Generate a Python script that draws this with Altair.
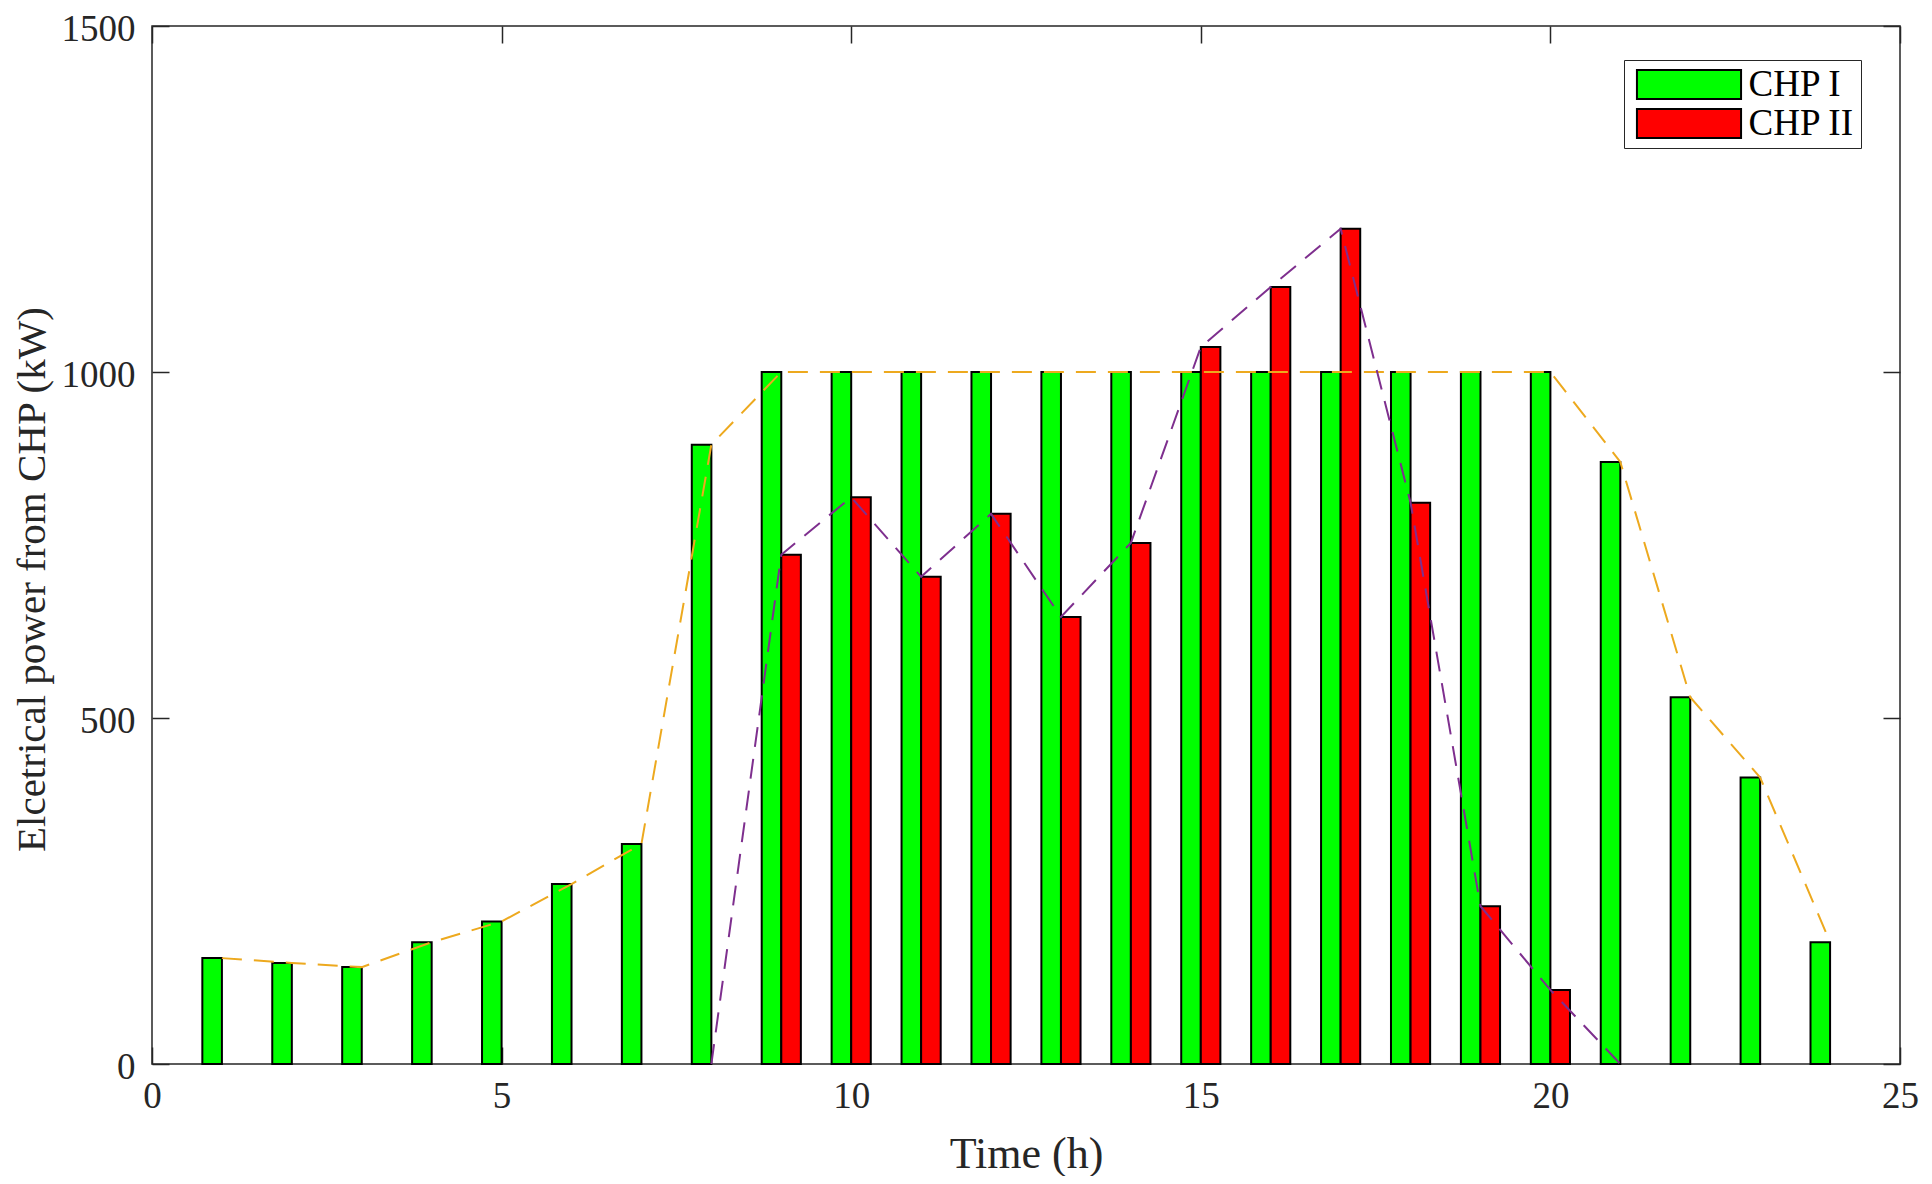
import altair as alt
import pandas as pd

# ---- data ----
hours = list(range(1, 25))
chp1 = [153, 146, 140, 176, 206, 260, 318, 895, 1000, 1000, 1000, 1000,
        1000, 1000, 1000, 1000, 1000, 1000, 1000, 1000, 870, 530, 414, 176]
chp2 = [0, 0, 0, 0, 0, 0, 0, 0, 736, 819, 704, 795,
        646, 753, 1036, 1123, 1207, 811, 228, 107, 0, 0, 0, 0]
series_names = ["CHP I", "CHP II"]
series_colors = ["#00FF00", "#FF0000"]
x_ticks = [0, 5, 10, 15, 20, 25]
y_ticks = [0, 500, 1000, 1500]

BAR_W = 0.28
FONT = "Liberation Serif"
TXT = "#262626"

df = pd.DataFrame({"hour": hours, "chp1": chp1, "chp2": chp2})
bars = pd.concat([
    pd.DataFrame({"series": series_names[0],
                  "x0": [h - BAR_W for h in hours], "x1": hours, "value": chp1}),
    pd.DataFrame({"series": series_names[1],
                  "x0": hours, "x1": [h + BAR_W for h in hours], "value": chp2}),
])
bars = bars[bars["value"] > 0]

xscale = alt.Scale(domain=[0, 25], nice=False, zero=False)
yscale = alt.Scale(domain=[0, 1500], nice=False)

tick_common = dict(offset=-17, tickSize=17, domain=False, grid=False,
                   tickColor=TXT, tickWidth=1.5)

x_main = alt.Axis(values=x_ticks, format="d", labelFlush=False, labelPadding=14,
                  labelFont=FONT, labelFontSize=37, labelColor=TXT,
                  titleFont=FONT, titleFontSize=44, titleFontWeight="normal",
                  titleColor=TXT, titleBaseline="alphabetic", titleY=120,
                  **tick_common)
y_main = alt.Axis(values=y_ticks, format="d", labelFlush=False, labelPadding=17,
                  labelOffset=3,
                  labelFont=FONT, labelFontSize=37, labelColor=TXT,
                  titleFont=FONT, titleFontSize=41, titleFontWeight="normal",
                  titleColor=TXT, titleAngle=270, titleBaseline="bottom",
                  titleAlign="center", titleX=-116, titleY=553,
                  **tick_common)
x_top = alt.Axis(orient="top", values=x_ticks, labels=False, **tick_common)
y_right = alt.Axis(orient="right", values=y_ticks, labels=False, **tick_common)

legend = alt.Legend(
    title=None, orient="none", legendX=1472, legendY=34, direction="vertical",
    symbolType="M-3.59,-1H3.59V1H-3.59Z", symbolSize=841,
    symbolStrokeColor="black", symbolStrokeWidth=2,
    symbolOffset=40.5, labelOffset=41,
    labelFont=FONT, labelFontSize=37, labelColor="black",
    padding=6, rowPadding=1, strokeColor=TXT, fillColor="white",
)

bar = alt.Chart(bars).mark_rect(stroke="black", strokeWidth=2).encode(
    x=alt.X("x0:Q", scale=xscale, axis=x_main, title="Time (h)"),
    x2="x1:Q",
    y=alt.Y("value:Q", scale=yscale, axis=y_main,
            title="Elcetrical power from CHP (kW)"),
    y2=alt.datum(0),
    color=alt.Color("series:N",
                    scale=alt.Scale(domain=series_names, range=series_colors),
                    legend=legend),
)

orange = alt.Chart(df).mark_line(
    color="#EDA91E", strokeWidth=2, strokeDash=[20, 12]
).encode(
    x=alt.X("hour:Q", scale=xscale, axis=None),
    y=alt.Y("chp1:Q", scale=yscale, axis=None),
)

purple = alt.Chart(df).transform_filter(
    "datum.hour >= 8 && datum.hour <= 21"
).mark_line(
    color="#7E2F8E", strokeWidth=2, strokeDash=[20, 12]
).encode(
    x=alt.X("hour:Q", scale=xscale, axis=x_top, title=None),
    y=alt.Y("chp2:Q", scale=yscale, axis=y_right, title=None),
)

chart = alt.layer(bar, orange, purple).resolve_axis(
    x="independent", y="independent"
).properties(
    width=1748, height=1038,
    padding={"left": 144, "top": 18, "right": 24, "bottom": 112},
    autosize=alt.AutoSizeParams(type="none"),
    background="white",
).configure_view(stroke=TXT, strokeWidth=1.5)

chart.save("out.html", embed_options={"renderer": "svg", "actions": False})
